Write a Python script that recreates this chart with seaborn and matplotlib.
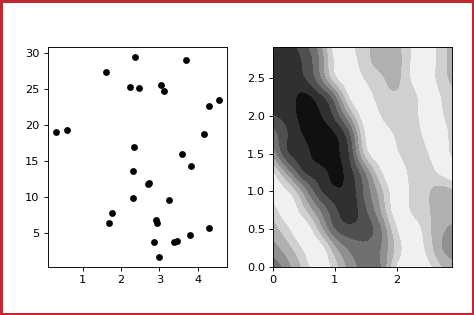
import numpy as np
import pandas as pd
import matplotlib
matplotlib.use("Agg")
import matplotlib.pyplot as plt
import seaborn as sns

# ---- scatter data (left panel) ----
scatter_x = [0.30, 0.59, 1.61, 2.37, 3.69, 2.22, 2.47, 3.03, 3.11, 4.29,
             4.54, 4.17, 2.34, 3.59, 3.83, 2.32, 2.70, 2.74, 2.32, 3.25,
             1.77, 1.69, 2.92, 2.94, 4.29, 3.79, 2.87, 3.39, 3.46, 2.99]
scatter_y = [19.0, 19.3, 27.3, 29.4, 29.0, 25.3, 25.1, 25.6, 24.7, 22.7,
             23.4, 18.7, 16.9, 16.0, 14.3, 13.6, 11.8, 11.9, 9.9, 9.5,
             7.7, 6.3, 6.8, 6.4, 5.7, 4.7, 3.7, 3.7, 3.8, 1.6]

# ---- contour field (right panel) ----
grid_x = [0.0, 0.25, 0.5, 0.75, 1.0, 1.25, 1.5, 1.75, 2.0, 2.25, 2.5, 2.75, 2.9]
grid_y = [0.0, 0.25, 0.5, 0.75, 1.0, 1.25, 1.5, 1.75, 2.0, 2.25, 2.5, 2.75, 2.9]
field_rows = [
    [3.0, 4.6, 6.2, 7.6, 6.4, 4.5, 3.6, 4.0, 7.0, 7.7, 7.3, 5.9, 5.4],
    [4.5, 5.6, 7.1, 7.5, 5.2, 3.7, 3.3, 4.0, 6.3, 7.6, 6.6, 4.9, 4.5],
    [5.4, 6.8, 7.6, 5.6, 3.0, 2.3, 2.5, 3.9, 6.8, 7.6, 6.3, 5.1, 4.7],
    [6.4, 7.6, 6.2, 4.0, 2.2, 1.5, 2.8, 5.0, 7.5, 6.8, 6.1, 5.4, 5.5],
    [7.6, 6.9, 4.5, 2.2, 1.2, 1.4, 3.3, 5.6, 7.6, 6.7, 6.1, 5.5, 5.8],
    [7.0, 4.3, 2.0, 1.4, 0.7, 1.6, 4.0, 6.8, 7.6, 6.6, 6.4, 7.3, 7.6],
    [4.5, 2.0, 1.4, 0.4, 0.75, 2.2, 6.3, 7.6, 7.1, 6.5, 6.9, 7.6, 6.6],
    [3.4, 1.9, 0.9, 0.35, 0.9, 2.9, 7.0, 7.6, 6.8, 6.5, 7.3, 7.4, 6.5],
    [2.0, 1.5, 0.6, 0.85, 2.2, 5.0, 7.6, 6.9, 6.3, 6.6, 7.4, 7.0, 6.4],
    [1.5, 1.4, 0.75, 1.6, 3.6, 7.1, 7.5, 6.4, 6.1, 6.6, 7.5, 6.8, 6.2],
    [1.4, 1.2, 1.9, 3.6, 6.6, 7.6, 6.8, 6.1, 5.7, 7.1, 7.5, 6.3, 5.7],
    [1.7, 1.3, 2.2, 4.0, 7.1, 7.4, 6.3, 5.4, 5.5, 7.1, 7.6, 6.3, 5.6],
    [2.1, 1.5, 2.6, 4.3, 7.4, 7.3, 6.2, 5.5, 5.6, 7.1, 7.6, 6.3, 5.6],
]
contour_levels = [0, 1, 2, 3, 4, 5, 6, 7, 8]


def natural_spline(xk, yk, xn):
    """Natural cubic spline through the read-off points (smooth resampling)."""
    xk = np.asarray(xk, float)
    yk = np.asarray(yk, float)
    n = len(xk)
    h = np.diff(xk)
    A = np.zeros((n, n))
    r = np.zeros(n)
    A[0, 0] = A[-1, -1] = 1.0
    for i in range(1, n - 1):
        A[i, i - 1] = h[i - 1]
        A[i, i] = 2 * (h[i - 1] + h[i])
        A[i, i + 1] = h[i]
        r[i] = 6 * ((yk[i + 1] - yk[i]) / h[i] - (yk[i] - yk[i - 1]) / h[i - 1])
    M = np.linalg.solve(A, r)
    idx = np.clip(np.searchsorted(xk, xn) - 1, 0, n - 2)
    x0, x1 = xk[idx], xk[idx + 1]
    hh = x1 - x0
    a = (x1 - xn) / hh
    b = (xn - x0) / hh
    return (a * yk[idx] + b * yk[idx + 1]
            + ((a ** 3 - a) * M[idx] + (b ** 3 - b) * M[idx + 1]) * hh ** 2 / 6)


Zc = np.array(field_rows)
fine_x = np.linspace(grid_x[0], grid_x[-1], 146)
fine_y = np.linspace(grid_y[0], grid_y[-1], 146)
Zx = np.array([natural_spline(grid_x, row, fine_x) for row in Zc])
Zf = np.array([natural_spline(grid_y, Zx[:, j], fine_y) for j in range(len(fine_x))]).T
Zf = np.clip(Zf, 0.01, 7.99)

DPI = 82
fig = plt.figure(figsize=(474 / DPI, 315 / DPI), dpi=DPI,
                 edgecolor="#c1272d", linewidth=3)
ax1 = fig.add_axes([47.7 / 474, (315 - 267.3) / 315, 179 / 474, 220 / 315])
ax2 = fig.add_axes([273 / 474, (315 - 267.3) / 315, 179.3 / 474, 220 / 315])

df = pd.DataFrame({"x": scatter_x, "y": scatter_y})
sns.scatterplot(data=df, x="x", y="y", ax=ax1, color="black", s=36,
                linewidth=0, legend=False)
ax1.set_xlabel("")
ax1.set_ylabel("")

X, Y = np.meshgrid(fine_x, fine_y)
ax2.contourf(X, Y, Zf, levels=contour_levels, cmap="gray", vmin=0, vmax=8)
ax2.set_xlim(0, 2.9)
ax2.set_ylim(0, 2.9)

fig.savefig("out.png", dpi=DPI, edgecolor=fig.get_edgecolor(),
            facecolor="white")
